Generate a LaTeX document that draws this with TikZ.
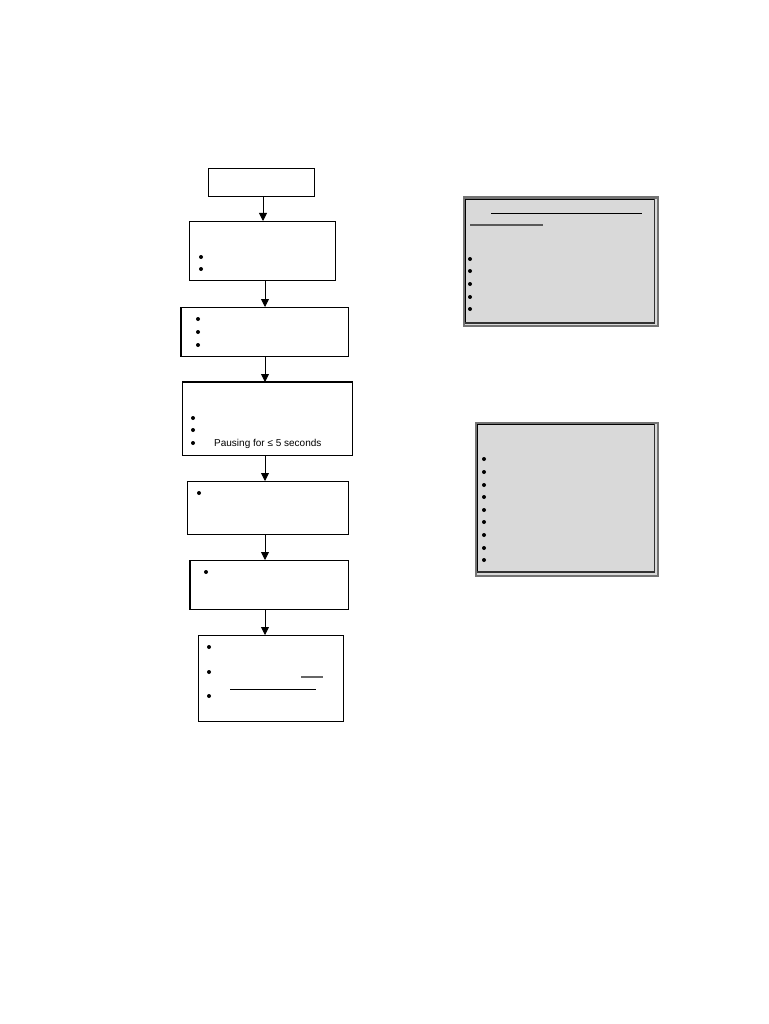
\documentclass[tikz,border=0pt]{standalone}
\usepackage{fontspec}
\setmainfont{Liberation Sans}
\usetikzlibrary{arrows.meta}
\begin{document}
\begin{tikzpicture}[x=1pt,y=-1pt,
  flowbox/.style={draw=black,line width=0.9pt,fill=white},
  conn/.style={draw=black,line width=0.9pt,-{Triangle[length=8pt,width=8pt]}},
  bul/.style={circle,fill=black,inner sep=0pt,minimum size=4pt},
  graybox/.style={draw=black!55,line width=2.6pt,fill=black!15},
  innerline/.style={draw=black,line width=0.9pt},
  txt/.style={font=\fontsize{10}{11}\selectfont,anchor=west,inner sep=0pt}]
\useasboundingbox (0,0) rectangle (768,1024);
% flow boxes
\node[flowbox,minimum width=106pt,minimum height=28pt,anchor=north west,inner sep=0pt] (b1) at (208,168) {};
\node[flowbox,minimum width=146pt,minimum height=59pt,anchor=north west,inner sep=0pt] (b2) at (189,221) {};
\node[flowbox,minimum width=167pt,minimum height=49pt,anchor=north west,inner sep=0pt] (b3) at (181,307) {};
\node[flowbox,minimum width=170pt,minimum height=73pt,anchor=north west,inner sep=0pt] (b4) at (182,382) {};
\node[flowbox,minimum width=161pt,minimum height=53pt,anchor=north west,inner sep=0pt] (b5) at (187,481) {};
\node[flowbox,minimum width=158pt,minimum height=49pt,anchor=north west,inner sep=0pt] (b6) at (190,560) {};
\node[flowbox,minimum width=145pt,minimum height=86pt,anchor=north west,inner sep=0pt] (b7) at (198,635) {};
% heavier edges
\draw[line width=1.8pt] (b3.north west) -- (b3.south west);
\draw[line width=1.8pt] (b4.north west) -- (b4.north east);
\draw[line width=1.8pt] (b6.north west) -- (b6.south west);
% connectors
\draw[conn] (b1.south -| 263,0) -- (b2.north -| 263,0);
\draw[conn] (b2.south -| 265,0) -- (b3.north -| 265,0);
\draw[conn] (b3.south -| 265,0) -- (b4.north -| 265,0);
\draw[conn] (b4.south -| 265,0) -- (b5.north -| 265,0);
\draw[conn] (b5.south -| 265,0) -- (b6.north -| 265,0);
\draw[conn] (b6.south -| 265,0) -- (b7.north -| 265,0);
% bullets in flow boxes
\foreach \y in {257,269} \node[bul] at (201,\y) {};
\foreach \y in {319,332,345} \node[bul] at (198,\y) {};
\foreach \y in {418,430,443} \node[bul] at (193,\y) {};
\node[txt] (t4) at (214,443.5) {Pausing for ≤ 5 seconds};
\node[bul] at (199,493) {};
\node[bul] at (206,572) {};
\foreach \y in {647,672,696} \node[bul] at (209,\y) {};
\draw[black!60,line width=1.2pt] (301,677) -- (323,677);
\draw[black,line width=0.9pt] (230,689) -- (316,689);
% gray box A
\node[graybox,minimum width=194pt,minimum height=128pt,anchor=north west,inner sep=0pt] (ga) at (462.5,196.5) {};
\draw[innerline] (465.5,199.5) rectangle (654,322.5);
\draw[black!80,line width=1.5pt] (654.5,199) -- (654.5,323) -- (465,323);
\draw[black,line width=0.9pt] (491,213) -- (642,213);
\draw[black!65,line width=1.4pt] (470,225) -- (543,225);
\foreach \y in {259,271,284,297,309} \node[bul] at (470,\y) {};
% gray box B
\node[graybox,minimum width=182pt,minimum height=153pt,anchor=north west,inner sep=0pt] (gb) at (474.5,421.5) {};
\draw[innerline] (477.5,424.5) rectangle (654,571.5);
\draw[black!80,line width=1.5pt] (654.5,424) -- (654.5,572) -- (477,572);
\foreach \y in {459,472,485,497,510,522,535,548,560} \node[bul] at (484,\y) {};
\end{tikzpicture}
\end{document}
